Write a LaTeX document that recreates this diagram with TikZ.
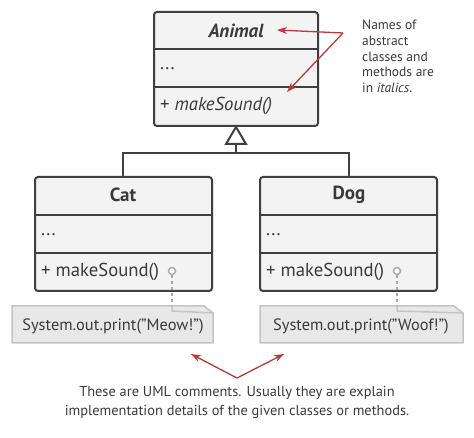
\documentclass[tikz,border=0pt]{standalone}
\usepackage{fontspec}
\setmainfont{PT Sans}
\usetikzlibrary{arrows.meta}
\definecolor{boxline}{HTML}{3F3F3F}
\definecolor{boxfill}{HTML}{F3F3F3}
\definecolor{txt}{HTML}{3A3A3A}
\definecolor{notefill}{HTML}{E8E8E8}
\definecolor{noteline}{HTML}{C4C4C4}
\definecolor{redarrow}{HTML}{B83A3A}
\newcommand{\dq}{\char34\relax}
\begin{document}
\begin{tikzpicture}[x=1pt,y=-1pt,
  classbox/.style={draw=boxline,fill=boxfill,line width=2pt,rounded corners=3pt},
  divider/.style={draw=boxline,line width=2pt},
  cls/.style={font=\fontsize{19}{22}\selectfont\bfseries,text=txt,inner sep=0pt},
  member/.style={font=\fontsize{18.7}{22}\selectfont,text=txt,inner sep=0pt,anchor=west},
  notebox/.style={draw=noteline,fill=notefill,line width=1.5pt,line join=round},
  notetext/.style={font=\fontsize{16.4}{19}\selectfont,text=txt,inner sep=0pt},
  anno/.style={font=\fontsize{13.5}{15.7}\selectfont,text=txt,inner sep=0pt},
  redarr/.style={draw=redarrow,line width=1.3pt,-{Stealth[length=10pt,width=7pt]}},
  inherit/.style={draw=boxline,line width=2pt},
  conn/.style={draw=gray!70,line width=1.5pt,dash pattern=on 3pt off 3pt}
]
\useasboundingbox (0,0) rectangle (474,438);
% Animal
\draw[classbox] (154,12) rectangle (318,126);
\draw[divider] (154,49) -- (318,49);
\draw[divider] (154,87) -- (318,87);
\node[cls,font=\fontsize{19}{22}\selectfont\bfseries\itshape] (animal) at (236,31) {Animal};
\node[member] (animalattr) at (160,69) {...};
\node[member] (animalm) at (160,106) {+ \textit{makeSound()}};
% inheritance
\coordinate (apex) at (236,127);
\coordinate (tribase) at (236,144);
\coordinate (hub) at (236,153);
\coordinate (catTop) at (123,177);
\coordinate (dogTop) at (349,177);
\draw[inherit] (tribase) -- (hub);
\draw[inherit] (catTop) |- (hub) -| (dogTop);
\draw[inherit,fill=white,line join=miter] (apex) -- (246,144) -- (226,144) -- cycle;
% Cat
\draw[classbox] (35,177) rectangle (212,291);
\draw[divider] (35,215) -- (212,215);
\draw[divider] (35,253) -- (212,253);
\node[cls] (cat) at (123,195) {Cat};
\node[member] (catattr) at (41,235) {...};
\node[member] (catm) at (41,272) {+ makeSound()};
% Dog
\draw[classbox] (260,177) rectangle (437,291);
\draw[divider] (260,215) -- (437,215);
\draw[divider] (260,253) -- (437,253);
\node[cls] (dog) at (349,195) {Dog};
\node[member] (dogattr) at (266,235) {...};
\node[member] (dogm) at (266,272) {+ makeSound()};
% notes
\draw[notebox] (12,306) -- (204,306) -- (213,313) -- (213,343) -- (12,343) -- cycle;
\draw[noteline,line width=1.5pt,line join=round] (172,306) -- (172,311) -- (213,313);
\draw[notebox] (260,306) -- (454,306) -- (463,313) -- (463,343) -- (260,343) -- cycle;
\draw[noteline,line width=1.5pt,line join=round] (397,306) -- (397,311) -- (463,313);
\node[notetext] (catnote) at (113,326) {System.out.print(\dq Meow!\dq)};
\node[notetext] (dognote) at (361,326) {System.out.print(\dq Woof!\dq)};
\node[circle,draw=gray!65,fill=white,line width=1.5pt,minimum size=7pt,inner sep=0pt] (catc) at (172,271) {};
\node[circle,draw=gray!65,fill=white,line width=1.5pt,minimum size=7pt,inner sep=0pt] (dogc) at (397,271) {};
\coordinate (catnt) at (172,306);
\coordinate (dognt) at (397,306);
\draw[conn] (catc.south) -- (catnt);
\draw[conn] (dogc.south) -- (dognt);
% annotation top
\node[anno,anchor=north west,align=left] (names) at (362,20) {Names of\\abstract\\classes and\\methods are\\in \textit{italics}.};
\coordinate (rp) at (343,33);
\coordinate (t1) at (277,30);
\coordinate (t2) at (287,92);
\draw[redarr] (rp) -- (t1);
\draw[redarr] (rp) -- (t2);
% annotation bottom
\coordinate (bp) at (237,378);
\coordinate (b1) at (191,354);
\coordinate (b2) at (284,354);
\draw[redarr] (bp) -- (b1);
\draw[redarr] (bp) -- (b2);
\node[anno,font=\fontsize{14.4}{19}\selectfont,align=center] (bottom) at (237,402) {These are UML comments. Usually they are explain\\implementation details of the given classes or methods.};
\end{tikzpicture}
\end{document}
